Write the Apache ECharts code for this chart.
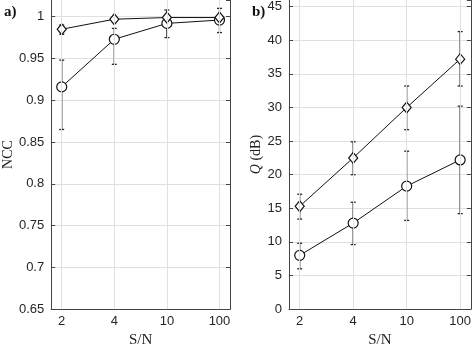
<!DOCTYPE html>
<html>
<head>
<meta charset="utf-8">
<script src="https://cdn.jsdelivr.net/npm/echarts@6/dist/echarts.min.js"></script>
<style>
  html, body { margin: 0; padding: 0; background: #fff; }
  #main { width: 474px; height: 353px; }
</style>
</head>
<body>
<div id="main"></div>
<script>
// S/N levels, plotted at positions 1..4
const snLabels = ['2', '4', '10', '100'];
const snPos = [1, 2, 3, 4];

// panel a) NCC
const nccDiamond     = [0.985, 0.997, 0.999, 0.999];
const nccDiamondLow  = [0.979, 0.994, 0.997, 0.997];
const nccDiamondHigh = [0.990, 1.000, 1.001, 1.001];
const nccCircle      = [0.916, 0.973, 0.992, 0.996];
const nccCircleLow   = [0.865, 0.943, 0.975, 0.981];
const nccCircleHigh  = [0.948, 0.986, 1.008, 1.010];

// panel b) Q (dB)
const qDiamond     = [15.3, 22.5, 30.0, 37.2];
const qDiamondLow  = [13.4, 20.0, 26.7, 33.2];
const qDiamondHigh = [17.1, 24.9, 33.2, 41.3];
const qCircle      = [8.0, 12.8, 18.3, 22.2];
const qCircleLow   = [6.0, 9.6, 13.2, 14.2];
const qCircleHigh  = [9.8, 15.9, 23.5, 30.2];

const labelFont = { color: '#262626', fontFamily: 'Liberation Sans, Arial, sans-serif', fontSize: 13 };
const serif = 'Liberation Serif, DejaVu Serif, serif';
const gridGray = '#e0e0e0';
const axisGray = '#444';

function pairs(ys) { return snPos.map((x, i) => [x, ys[i]]); }
function errData(low, high) { return snPos.map((x, i) => [x, low[i], high[i]]); }

function errorBars(gi, low, high) {
  return {
    type: 'custom',
    xAxisIndex: gi, yAxisIndex: gi,
    z: 2, silent: true, clip: false,
    data: errData(low, high),
    renderItem: function (params, api) {
      const lo = api.coord([api.value(0), api.value(1)]);
      const hi = api.coord([api.value(0), api.value(2)]);
      const c = 2.5;
      const st = { stroke: '#2a2a2a', lineWidth: 1.3 };
      return {
        type: 'group',
        children: [
          { type: 'line', shape: { x1: lo[0], y1: lo[1], x2: hi[0], y2: hi[1] }, style: st },
          { type: 'line', shape: { x1: lo[0] - c, y1: lo[1], x2: lo[0] + c, y2: lo[1] }, style: st },
          { type: 'line', shape: { x1: hi[0] - c, y1: hi[1], x2: hi[0] + c, y2: hi[1] }, style: st }
        ]
      };
    }
  };
}

function lineSeries(gi, ys, symbol, size) {
  return {
    type: 'line',
    xAxisIndex: gi, yAxisIndex: gi,
    z: 3, silent: true,
    data: pairs(ys),
    symbol: symbol,
    symbolSize: size,
    showAllSymbol: true,
    lineStyle: { color: '#111', width: 1 },
    itemStyle: { color: '#fff', borderColor: '#111', borderWidth: 1.2 }
  };
}

function vGrid(gi) {
  return {
    type: 'line', xAxisIndex: gi, yAxisIndex: gi, data: [], z: 1, silent: true,
    markLine: {
      silent: true, symbol: 'none', label: { show: false }, animation: false,
      lineStyle: { color: gridGray, type: 'solid', width: 1 },
      data: snPos.map(x => ({ xAxis: x }))
    }
  };
}

function xAxisFor(gi) {
  return {
    type: 'value', gridIndex: gi, min: 0.8, max: 4.2,
    name: 'S/N', nameLocation: 'middle', nameGap: 22,
    nameTextStyle: { fontFamily: serif, fontSize: 15, color: '#222' },
    axisLine: { show: true, onZero: false, lineStyle: { color: axisGray } },
    axisTick: { inside: true, length: 4, customValues: snPos, lineStyle: { color: axisGray } },
    axisLabel: Object.assign({ customValues: snPos, margin: 6, formatter: v => snLabels[snPos.indexOf(v)] }, labelFont),
    splitLine: { show: false }
  };
}

function yMain(gi, min, max, interval, name, gap, nameStyle) {
  return {
    type: 'value', gridIndex: gi, min: min, max: max, interval: interval, position: 'left',
    name: name, nameLocation: 'middle', nameGap: gap, nameRotate: 90, nameTextStyle: nameStyle,
    axisLine: { show: true, onZero: false, lineStyle: { color: axisGray } },
    axisTick: { inside: true, length: 4, lineStyle: { color: axisGray } },
    axisLabel: Object.assign({ showMaxLabel: false, margin: 7 }, labelFont),
    splitLine: { show: true, showMaxLine: false, lineStyle: { color: gridGray } }
  };
}

function yRight(gi, min, max, interval) {
  return {
    type: 'value', gridIndex: gi, min: min, max: max, interval: interval, position: 'right',
    axisLine: { show: true, onZero: false, lineStyle: { color: axisGray } },
    axisTick: { inside: true, length: 4, lineStyle: { color: axisGray } },
    axisLabel: { show: false },
    splitLine: { show: false }
  };
}

const chart = echarts.init(document.getElementById('main'));
chart.setOption({
  animation: false,
  backgroundColor: '#fff',
  grid: [
    { left: 46, width: 184, top: 0, bottom: 37 },
    { left: 289, width: 184, top: 0, bottom: 37 }
  ],
  title: [
    { text: 'a)', left: -1, top: 0, textStyle: { fontFamily: serif, fontWeight: 'bold', fontSize: 15, color: '#111' } },
    { text: 'b)', left: 247, top: 0, textStyle: { fontFamily: serif, fontWeight: 'bold', fontSize: 15, color: '#111' } }
  ],
  xAxis: [xAxisFor(0), xAxisFor(1)],
  yAxis: [
    yMain(0, 0.65, 1.02, 0.05, 'NCC', 34, { fontFamily: serif, fontSize: 14, color: '#222' }),
    yMain(1, 0, 46, 5, '{i|Q} (dB)', 26, {
      fontFamily: serif, fontSize: 14, color: '#222',
      rich: { i: { fontFamily: serif, fontStyle: 'italic', fontSize: 14, color: '#222' } }
    }),
    yRight(0, 0.65, 1.02, 0.05),
    yRight(1, 0, 46, 5)
  ],
  series: [
    vGrid(0), vGrid(1),
    errorBars(0, nccCircleLow, nccCircleHigh),
    errorBars(0, nccDiamondLow, nccDiamondHigh),
    lineSeries(0, nccCircle, 'circle', 10),
    lineSeries(0, nccDiamond, 'diamond', [9, 11]),
    errorBars(1, qCircleLow, qCircleHigh),
    errorBars(1, qDiamondLow, qDiamondHigh),
    lineSeries(1, qCircle, 'circle', 10),
    lineSeries(1, qDiamond, 'diamond', [9, 11])
  ]
});
</script>
</body>
</html>
